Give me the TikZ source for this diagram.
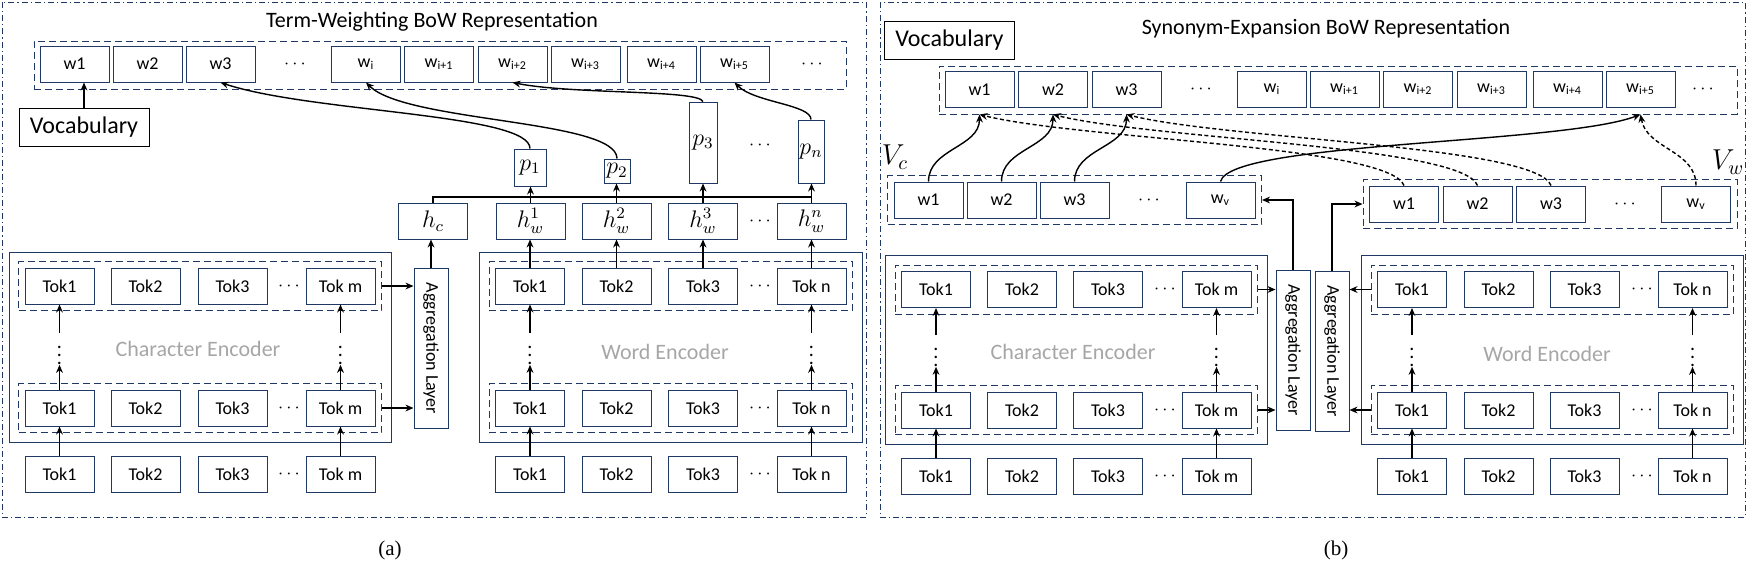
\documentclass[tikz,border=0pt]{standalone}
\usepackage{fontspec}
\setmainfont{Carlito}
\newfontfamily\capfont{Liberation Serif}
\usepackage{graphicx}
\usepackage{tikz}
\usetikzlibrary{calc}
\usetikzlibrary{fit}
\usetikzlibrary{positioning}
\usetikzlibrary{arrows.meta}
\definecolor{boxNavy}{HTML}{1F3864}
\definecolor{encGray}{HTML}{A6A6A6}
\tikzset{every picture/.style={semithick}}
\tikzset{
	tokbox/.style={draw=boxNavy, line width=0.5pt, minimum width=34.5pt, minimum height=18pt, inner sep=0pt, font=\fontsize{9}{11}\selectfont},
	hbox/.style={draw=boxNavy, line width=0.5pt, minimum width=34.5pt, minimum height=18pt, inner sep=0pt, font=\large},
	pbox/.style={draw=boxNavy, line width=0.5pt, inner sep=0pt, font=\large},
	vocbox/.style={draw=black, line width=0.5pt, minimum width=65pt, minimum height=19pt, inner sep=0pt, font=\fontsize{12}{14}\selectfont},
	dashbox/.style={draw=boxNavy, line width=0.5pt, dash pattern=on 3.5pt off 2pt, inner sep=0pt},
	rowbox/.style={dashbox, inner xsep=3pt, inner ysep=3pt},
	encbox/.style={draw=boxNavy, line width=0.5pt, inner sep=4.5pt},
	agg/.style={draw=boxNavy, line width=0.5pt, minimum width=17pt, minimum height=80pt, inner sep=0pt, font=\fontsize{9}{11}\selectfont},
	panel/.style={draw=boxNavy, thin, dash pattern=on 3pt off 1.5pt on 0.6pt off 1.5pt},
	paneltitle/.style={font=\fontsize{11}{13}\selectfont},
	encname/.style={text=encGray, font=\fontsize{11}{13}\selectfont},
	hdots/.style={inner sep=0pt, font=\fontsize{9}{11}\selectfont},
	vd/.style={inner sep=0pt, minimum height=15pt},
	vlabel/.style={font=\Large},
	caption/.style={font=\capfont\fontsize{10.5}{12}\selectfont},
	link/.style={line width=0.7pt, ->},
	dashlink/.style={link, dash pattern=on 2pt off 1.3pt},
}

\begin{document}
\begin{tikzpicture}[x=0.5pt, y=-0.5pt, >={Stealth[length=4pt,width=3.4pt]}]
		\def\rowAa{286}
		\def\rowAb{408}
		\def\rowAc{474}
		\def\rowBa{289.5}
		\def\rowBb{410}
		\def\rowBc{476}
		\def\vocAy{64}
		\def\vocBy{89.5}

	\useasboundingbox (0,0) rectangle (1749,563);

	\draw[panel] (2,2) rectangle (866,517);
	\node[paneltitle] (titleA) at (432,22) {Term-Weighting BoW Representation};

	\node[dashbox, minimum width=406pt, minimum height=24pt] (vocA) at (440,65) {};
		\node[tokbox] (aw1) at (74.5,\vocAy) {w1};
		\node[tokbox] (aw2) at (147.5,\vocAy) {w2};
		\node[tokbox] (aw3) at (220.5,\vocAy) {w3};
		\node[hdots] (awd) at (295,\vocAy) {$\cdots$};
		\node[tokbox] (awi) at (366,\vocAy) {w\textsubscript{i}};
		\node[tokbox] (awi1) at (439,\vocAy) {w\textsubscript{i+1}};
		\node[tokbox] (awi2) at (512.5,\vocAy) {w\textsubscript{i+2}};
		\node[tokbox] (awi3) at (585.5,\vocAy) {w\textsubscript{i+3}};
		\node[tokbox] (awi4) at (661.5,\vocAy) {w\textsubscript{i+4}};
		\node[tokbox] (awi5) at (734.5,\vocAy) {w\textsubscript{i+5}};
		\node[hdots] (awe) at (812,\vocAy) {$\cdots$};
	\node[vocbox] (vocabA) at (84,127.5) {Vocabulary};

	\node[pbox, minimum width=16pt, minimum height=18.5pt] (p1) at (530,167.5) {$p_1$};
	\node[pbox, minimum width=13pt, minimum height=12pt] (p2) at (617,171) {$p_2$};
	\node[pbox, minimum width=14pt, minimum height=40.5pt] (p3) at (703,142.5) {$p_3$};
	\node[hdots] (pd) at (760,145) {$\cdots$};
	\node[pbox, minimum width=13pt, minimum height=31.5pt] (pn) at (811,151.5) {$p_n$};

	\node[hbox] (hc) at (433,221) {$h_c$};
	\node[hbox] (hw1) at (530.5,221) {$h_w^1$};
	\node[hbox] (hw2) at (616.5,221) {$h_w^2$};
	\node[hbox] (hw3) at (703,221) {$h_w^3$};
	\node[hdots] (hd) at (760,221) {$\cdots$};
	\node[hbox] (hwn) at (811.5,221) {$h_w^n$};
	\coordinate (hl) at (811.5,197);

	\node[agg] (aggA) at (431,348.5) {\rotatebox{-90}{Aggregation Layer}};

		\node[tokbox] (chA11) at (59.5,\rowAa) {Tok1};
		\node[tokbox] (chA12) at (145.5,\rowAa) {Tok2};
		\node[tokbox] (chA13) at (232.5,\rowAa) {Tok3};
		\node[hdots] (chA1d) at (289,\rowAa) {$\cdots$};
		\node[tokbox] (chA1m) at (340.5,\rowAa) {Tok m};
		\node[tokbox] (chA21) at (59.5,\rowAb) {Tok1};
		\node[tokbox] (chA22) at (145.5,\rowAb) {Tok2};
		\node[tokbox] (chA23) at (232.5,\rowAb) {Tok3};
		\node[hdots] (chA2d) at (289,\rowAb) {$\cdots$};
		\node[tokbox] (chA2m) at (340.5,\rowAb) {Tok m};
		\node[tokbox] (chA31) at (59.5,\rowAc) {Tok1};
		\node[tokbox] (chA32) at (145.5,\rowAc) {Tok2};
		\node[tokbox] (chA33) at (232.5,\rowAc) {Tok3};
		\node[hdots] (chA3d) at (289,\rowAc) {$\cdots$};
		\node[tokbox] (chA3m) at (340.5,\rowAc) {Tok m};
	\node[rowbox, fit=(chA11)(chA1m)] (chArow1) {};
	\node[rowbox, fit=(chA21)(chA2m)] (chArow2) {};
	\node[encbox, fit=(chArow1)(chArow2)] (chAenc) {};
	\node[vd] (chAv1) at (59.5,349) {$\vdots$};
	\node[vd] (chAvm) at (340.5,349) {$\vdots$};
	\node[encname] (chAname) at (198,349) {Character Encoder};

		\node[tokbox] (wdA11) at (530,\rowAa) {Tok1};
		\node[tokbox] (wdA12) at (616.5,\rowAa) {Tok2};
		\node[tokbox] (wdA13) at (703,\rowAa) {Tok3};
		\node[hdots] (wdA1d) at (760,\rowAa) {$\cdots$};
		\node[tokbox] (wdA1n) at (811.5,\rowAa) {Tok n};
		\node[tokbox] (wdA21) at (530,\rowAb) {Tok1};
		\node[tokbox] (wdA22) at (616.5,\rowAb) {Tok2};
		\node[tokbox] (wdA23) at (703,\rowAb) {Tok3};
		\node[hdots] (wdA2d) at (760,\rowAb) {$\cdots$};
		\node[tokbox] (wdA2n) at (811.5,\rowAb) {Tok n};
		\node[tokbox] (wdA31) at (530,\rowAc) {Tok1};
		\node[tokbox] (wdA32) at (616.5,\rowAc) {Tok2};
		\node[tokbox] (wdA33) at (703,\rowAc) {Tok3};
		\node[hdots] (wdA3d) at (760,\rowAc) {$\cdots$};
		\node[tokbox] (wdA3n) at (811.5,\rowAc) {Tok n};
	\node[rowbox, fit=(wdA11)(wdA1n)] (wdArow1) {};
	\node[rowbox, fit=(wdA21)(wdA2n)] (wdArow2) {};
	\node[encbox, fit=(wdArow1)(wdArow2)] (wdAenc) {};
	\node[vd] (wdAv1) at (530,349) {$\vdots$};
	\node[vd] (wdAvn) at (811.5,349) {$\vdots$};
	\node[encname] (wdAname) at (665,352) {Word Encoder};

	\node[caption] (capA) at (390,550) {(a)};

	\draw[link] (vocabA.north) -- (vocabA.north |- aw1.south);
	\draw[link] (p1.north) .. controls +(0,-35) and +(90,30) .. (aw3.south);
	\draw[link] (p2.north) .. controls +(0,-39) and +(40,40) .. (awi.south);
	\draw[link] (p3.north) .. controls +(-5,-12) and +(60,12) .. (awi2.south);
	\draw[link] (pn.north) .. controls +(0,-15) and +(20,20) .. (awi5.south);

	\draw[line width=0.7pt] (hc.north) |- (hl);
	\draw[link] (hw1.north) -- (hw1.north |- p1.south);
	\draw[link] (hw2.north) -- (hw2.north |- p2.south);
	\draw[link] (hw3.north) -- (hw3.north |- p3.south);
	\draw[link] (hwn.north) -- (hwn.north |- pn.south);
	\draw[link] (aggA.north) -- (aggA.north |- hc.south);

	\draw[link] (chA31.north) -- (chA21.south);
	\draw[link] (chA21.north) -- (chAv1.south);
	\draw[link] (chAv1.north) -- (chA11.south);
	\draw[link] (chA3m.north) -- (chA2m.south);
	\draw[link] (chA2m.north) -- (chAvm.south);
	\draw[link] (chAvm.north) -- (chA1m.south);
	\draw[link] (chArow1.east) -- (chArow1.east -| aggA.west);
	\draw[link] (chArow2.east) -- (chArow2.east -| aggA.west);

	\draw[link] (wdA31.north) -- (wdA21.south);
	\draw[link] (wdA21.north) -- (wdAv1.south);
	\draw[link] (wdAv1.north) -- (wdA11.south);
	\draw[link] (wdA3n.north) -- (wdA2n.south);
	\draw[link] (wdA2n.north) -- (wdAvn.south);
	\draw[link] (wdAvn.north) -- (wdA1n.south);
	\draw[link] (wdA11.north) -- (wdA11.north |- hw1.south);
	\draw[link] (wdA12.north) -- (wdA12.north |- hw2.south);
	\draw[link] (wdA13.north) -- (wdA13.north |- hw3.south);
	\draw[link] (wdA1n.north) -- (wdA1n.north |- hwn.south);

	\draw[panel] (880,2) rectangle (1745,517);
	\node[paneltitle] (titleB) at (1326,29) {Synonym-Expansion BoW Representation};
	\node[vocbox] (vocabB) at (949.5,40.5) {Vocabulary};

	\node[dashbox, minimum width=399pt, minimum height=24pt] (vocB) at (1338,90) {};
		\node[tokbox] (bw1) at (979.5,\vocBy) {w1};
		\node[tokbox] (bw2) at (1053,\vocBy) {w2};
		\node[tokbox] (bw3) at (1126.5,\vocBy) {w3};
		\node[hdots] (bwd) at (1201,\vocBy) {$\cdots$};
		\node[tokbox] (bwi) at (1272,\vocBy) {w\textsubscript{i}};
		\node[tokbox] (bwi1) at (1344.5,\vocBy) {w\textsubscript{i+1}};
		\node[tokbox] (bwi2) at (1418,\vocBy) {w\textsubscript{i+2}};
		\node[tokbox] (bwi3) at (1491.5,\vocBy) {w\textsubscript{i+3}};
		\node[tokbox] (bwi4) at (1567.5,\vocBy) {w\textsubscript{i+4}};
		\node[tokbox] (bwi5) at (1640.5,\vocBy) {w\textsubscript{i+5}};
		\node[hdots] (bwe) at (1703,\vocBy) {$\cdots$};

	\node[vlabel] (vcLab) at (895,157) {$V_c$};
		\node[tokbox] (cw1) at (928.5,200) {w1};
		\node[tokbox] (cw2) at (1001.5,200) {w2};
		\node[tokbox] (cw3) at (1074.5,200) {w3};
		\node[hdots] (cwd) at (1149,200) {$\cdots$};
		\node[tokbox] (cwv) at (1220.5,200) {w\textsubscript{v}};
	\node[rowbox, fit=(cw1)(cwv)] (vcRow) {};

	\node[vlabel] (vwLab) at (1728,162) {$V_w$};
		\node[tokbox] (vw1) at (1404,204) {w1};
		\node[tokbox] (vw2) at (1477.5,204) {w2};
		\node[tokbox] (vw3) at (1551,204) {w3};
		\node[hdots] (vwd) at (1625,204) {$\cdots$};
		\node[tokbox] (vwv) at (1696,204) {w\textsubscript{v}};
	\node[rowbox, fit=(vw1)(vwv)] (vwRow) {};

	\node[agg] (aggC) at (1293,350) {\rotatebox{-90}{Aggregation Layer}};
	\node[agg] (aggW) at (1332,351) {\rotatebox{-90}{Aggregation Layer}};

		\node[tokbox] (chB11) at (936,\rowBa) {Tok1};
		\node[tokbox] (chB12) at (1022,\rowBa) {Tok2};
		\node[tokbox] (chB13) at (1108,\rowBa) {Tok3};
		\node[hdots] (chB1d) at (1165,\rowBa) {$\cdots$};
		\node[tokbox] (chB1m) at (1216.5,\rowBa) {Tok m};
		\node[tokbox] (chB21) at (936,\rowBb) {Tok1};
		\node[tokbox] (chB22) at (1022,\rowBb) {Tok2};
		\node[tokbox] (chB23) at (1108,\rowBb) {Tok3};
		\node[hdots] (chB2d) at (1165,\rowBb) {$\cdots$};
		\node[tokbox] (chB2m) at (1216.5,\rowBb) {Tok m};
		\node[tokbox] (chB31) at (936,\rowBc) {Tok1};
		\node[tokbox] (chB32) at (1022,\rowBc) {Tok2};
		\node[tokbox] (chB33) at (1108,\rowBc) {Tok3};
		\node[hdots] (chB3d) at (1165,\rowBc) {$\cdots$};
		\node[tokbox] (chB3m) at (1216.5,\rowBc) {Tok m};
	\node[rowbox, fit=(chB11)(chB1m)] (chBrow1) {};
	\node[rowbox, fit=(chB21)(chB2m)] (chBrow2) {};
	\node[encbox, fit=(chBrow1)(chBrow2)] (chBenc) {};
	\node[vd] (chBv1) at (936,351) {$\vdots$};
	\node[vd] (chBvm) at (1216.5,351) {$\vdots$};
	\node[encname] (chBname) at (1073,352) {Character Encoder};

		\node[tokbox] (wdB11) at (1412,\rowBa) {Tok1};
		\node[tokbox] (wdB12) at (1498.5,\rowBa) {Tok2};
		\node[tokbox] (wdB13) at (1584.5,\rowBa) {Tok3};
		\node[hdots] (wdB1d) at (1642,\rowBa) {$\cdots$};
		\node[tokbox] (wdB1n) at (1692.5,\rowBa) {Tok n};
		\node[tokbox] (wdB21) at (1412,\rowBb) {Tok1};
		\node[tokbox] (wdB22) at (1498.5,\rowBb) {Tok2};
		\node[tokbox] (wdB23) at (1584.5,\rowBb) {Tok3};
		\node[hdots] (wdB2d) at (1642,\rowBb) {$\cdots$};
		\node[tokbox] (wdB2n) at (1692.5,\rowBb) {Tok n};
		\node[tokbox] (wdB31) at (1412,\rowBc) {Tok1};
		\node[tokbox] (wdB32) at (1498.5,\rowBc) {Tok2};
		\node[tokbox] (wdB33) at (1584.5,\rowBc) {Tok3};
		\node[hdots] (wdB3d) at (1642,\rowBc) {$\cdots$};
		\node[tokbox] (wdB3n) at (1692.5,\rowBc) {Tok n};
	\node[rowbox, fit=(wdB11)(wdB1n)] (wdBrow1) {};
	\node[rowbox, fit=(wdB21)(wdB2n)] (wdBrow2) {};
	\node[encbox, fit=(wdBrow1)(wdBrow2)] (wdBenc) {};
	\node[vd] (wdBv1) at (1412,351) {$\vdots$};
	\node[vd] (wdBvn) at (1692.5,351) {$\vdots$};
	\node[encname] (wdBname) at (1547,354) {Word Encoder};

	\node[caption] (capB) at (1336,550) {(b)};

	\draw[link] (cw1.north) to[out=90,in=-90] (bw1.south |- vocB.south);
	\draw[link] (cw2.north) to[out=90,in=-90] (bw2.south |- vocB.south);
	\draw[link] (cw3.north) to[out=90,in=-90] (bw3.south |- vocB.south);
	\draw[link] (cwv.north) .. controls +(10,-40) and +(-80,30) .. (bwi5.south |- vocB.south);
	\draw[dashlink] (vw1.north) .. controls +(-15,-40) and +(100,25) .. (bw1.south |- vocB.south);
	\draw[dashlink] (vw2.north) .. controls +(-15,-40) and +(100,25) .. (bw2.south |- vocB.south);
	\draw[dashlink] (vw3.north) .. controls +(-15,-40) and +(100,25) .. (bw3.south |- vocB.south);
	\draw[dashlink] (vwv.north) to[out=90,in=-80] (bwi5.south |- vocB.south);

	\draw[link] (aggC.north) |- (vcRow.east);
	\draw[link] (aggW.north) |- (vwRow.west);

	\draw[link] (chB31.north) -- (chB21.south);
	\draw[link] (chB21.north) -- (chBv1.south);
	\draw[link] (chBv1.north) -- (chB11.south);
	\draw[link] (chB3m.north) -- (chB2m.south);
	\draw[link] (chB2m.north) -- (chBvm.south);
	\draw[link] (chBvm.north) -- (chB1m.south);
	\draw[link] (chBrow1.east) -- (chBrow1.east -| aggC.west);
	\draw[link] (chBrow2.east) -- (chBrow2.east -| aggC.west);

	\draw[link] (wdB31.north) -- (wdB21.south);
	\draw[link] (wdB21.north) -- (wdBv1.south);
	\draw[link] (wdBv1.north) -- (wdB11.south);
	\draw[link] (wdB3n.north) -- (wdB2n.south);
	\draw[link] (wdB2n.north) -- (wdBvn.south);
	\draw[link] (wdBvn.north) -- (wdB1n.south);
	\draw[link] (wdBrow1.west) -- (wdBrow1.west -| aggW.east);
	\draw[link] (wdBrow2.west) -- (wdBrow2.west -| aggW.east);

\end{tikzpicture}
\end{document}
